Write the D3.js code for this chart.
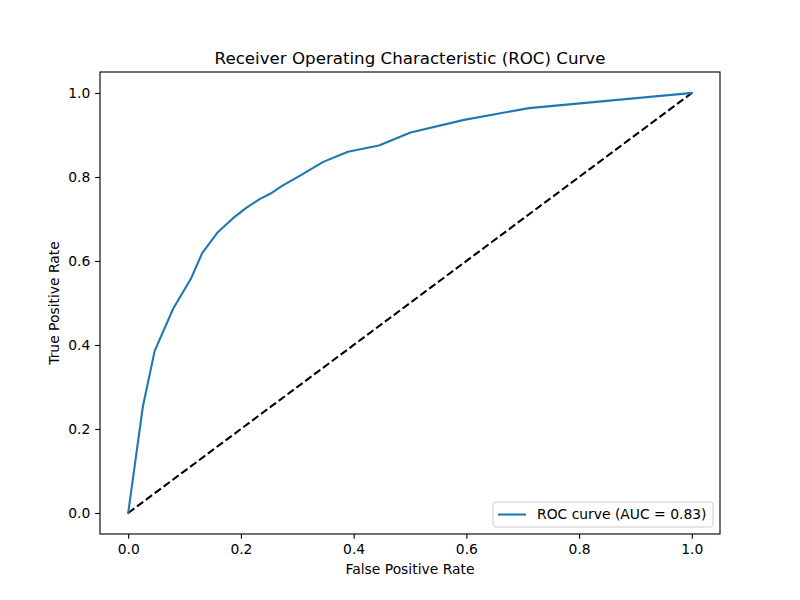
<!DOCTYPE html>
<html>
<head>
<meta charset="utf-8">
<script src="https://cdn.jsdelivr.net/npm/d3@7"></script>
<style>
  body { margin: 0; background: #fff; overflow: hidden; }
  svg { display: block; }
  svg text { font-family: "DejaVu Sans", sans-serif; fill: #000; }
</style>
</head>
<body>
<svg id="chart" width="800" height="600"></svg>
<script>
// ROC curve points
const fpr = [0, 0.026, 0.047, 0.080, 0.111, 0.131, 0.158, 0.186, 0.210, 0.234, 0.252, 0.273, 0.302, 0.346, 0.390, 0.445, 0.501, 0.596, 0.711, 1.0];
const tpr = [0, 0.253, 0.386, 0.487, 0.557, 0.618, 0.667, 0.702, 0.727, 0.748, 0.760, 0.779, 0.801, 0.836, 0.860, 0.875, 0.906, 0.936, 0.964, 1.0];
const chance = [0, 1];
const ticks = [0, 0.2, 0.4, 0.6, 0.8, 1.0];
const aucLabel = 'ROC curve (AUC = 0.83)';

const width = 800, height = 600;
const margin = { top: 72, right: 80, bottom: 66, left: 100 };
const innerWidth = width - margin.left - margin.right;
const innerHeight = height - margin.top - margin.bottom;
const pt = 100 / 72;
const fontSize = 10 * pt;

const svg = d3.select('#chart');
const chart = svg.append('g')
  .attr('transform', `translate(${margin.left},${margin.top})`);

const x = d3.scaleLinear().domain([-0.05, 1.05]).range([0, innerWidth]);
const y = d3.scaleLinear().domain([-0.05, 1.05]).range([innerHeight, 0]);

const xAxis = chart.append('g')
  .attr('transform', `translate(0,${innerHeight})`)
  .call(d3.axisBottom(x).tickValues(ticks).tickFormat(d3.format('.1f'))
    .tickSize(3.5 * pt).tickPadding(3.5 * pt));
const yAxis = chart.append('g')
  .call(d3.axisLeft(y).tickValues(ticks).tickFormat(d3.format('.1f'))
    .tickSize(3.5 * pt).tickPadding(3.5 * pt));
[xAxis, yAxis].forEach(a => {
  a.select('.domain').remove();
  a.attr('font-family', null).attr('font-size', null);
  a.selectAll('text').attr('font-size', fontSize);
  a.selectAll('line').attr('stroke', '#000').attr('stroke-width', 0.8 * pt);
});

// chance diagonal
chart.append('path')
  .datum(chance)
  .attr('fill', 'none')
  .attr('stroke', '#000')
  .attr('stroke-width', 1.5 * pt)
  .attr('stroke-dasharray', `${5.55 * pt},${2.4 * pt}`)
  .attr('d', d3.line().x(d => x(d)).y(d => y(d)));

// ROC curve
chart.append('path')
  .datum(fpr.map((f, i) => [f, tpr[i]]))
  .attr('fill', 'none')
  .attr('stroke', '#1f77b4')
  .attr('stroke-width', 1.5 * pt)
  .attr('stroke-linejoin', 'round')
  .attr('stroke-linecap', 'square')
  .attr('d', d3.line().x(d => x(d[0])).y(d => y(d[1])));

// spines
chart.append('rect')
  .attr('width', innerWidth)
  .attr('height', innerHeight)
  .attr('fill', 'none')
  .attr('stroke', '#000')
  .attr('stroke-width', 0.8 * pt);

// legend
const legend = chart.append('g')
  .attr('transform', `translate(${innerWidth - 7 - 220},${innerHeight - 7 - 25})`);
legend.append('rect')
  .attr('width', 220)
  .attr('height', 25)
  .attr('rx', 3)
  .attr('fill', '#fff')
  .attr('fill-opacity', 0.8)
  .attr('stroke', '#cccccc')
  .attr('stroke-width', 1);
legend.append('line')
  .attr('x1', 5).attr('x2', 33)
  .attr('y1', 12.5).attr('y2', 12.5)
  .attr('stroke', '#1f77b4')
  .attr('stroke-width', 1.5 * pt);
legend.append('text')
  .attr('x', 44)
  .attr('y', 17)
  .attr('font-size', fontSize)
  .text(aucLabel);

// titles
svg.append('text')
  .attr('x', margin.left + innerWidth / 2)
  .attr('y', margin.top - 8)
  .attr('text-anchor', 'middle')
  .attr('font-size', 12 * pt)
  .text('Receiver Operating Characteristic (ROC) Curve');

svg.append('text')
  .attr('x', margin.left + innerWidth / 2)
  .attr('y', 574)
  .attr('text-anchor', 'middle')
  .attr('font-size', fontSize)
  .text('False Positive Rate');

svg.append('text')
  .attr('transform', 'rotate(-90)')
  .attr('x', -(margin.top + innerHeight / 2))
  .attr('y', 59)
  .attr('text-anchor', 'middle')
  .attr('font-size', fontSize)
  .text('True Positive Rate');
</script>
</body>
</html>
